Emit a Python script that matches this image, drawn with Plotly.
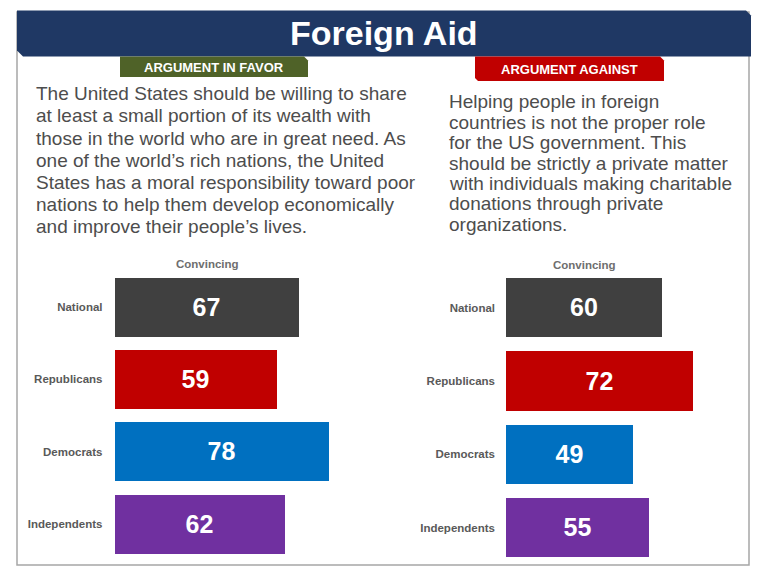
import plotly.graph_objects as go

W, H = 768, 576

title = "Foreign Aid"
label_favor = "ARGUMENT IN FAVOR"
label_against = "ARGUMENT AGAINST"
favor_lines = [
    "The United States should be willing to share",
    "at least a small portion of its wealth with",
    "those in the world who are in great need. As",
    "one of the world\u2019s rich nations, the United",
    "States has a moral responsibility toward poor",
    "nations to help them develop economically",
    "and improve their people\u2019s lives.",
]
against_lines = [
    "Helping people in foreign",
    "countries is not the proper role",
    "for the US government. This",
    "should be strictly a private matter",
    "with individuals making charitable",
    "donations through private",
    "organizations.",
]
categories = ["National", "Republicans", "Democrats", "Independents"]
favor_values = [67, 59, 78, 62]
against_values = [60, 72, 49, 55]
bar_colors = ["#404040", "#C00000", "#0070C0", "#7030A0"]
column_title = "Convincing"

FONT = "Arial, Liberation Sans, sans-serif"


def px(x):
    return x / W


def py(y):
    return 1 - y / H


def path(points):
    s = "M " + " L ".join(f"{px(x):.5f},{py(y):.5f}" for x, y in points) + " Z"
    return s


fig = go.Figure()

fig.add_trace(go.Bar(
    x=favor_values, y=categories, orientation="h",
    marker=dict(color=bar_colors, line=dict(width=0)),
    width=0.816,
    text=favor_values, textposition="inside", insidetextanchor="middle",
    textfont=dict(family=FONT, size=25, color="white", weight="bold"),
    xaxis="x", yaxis="y", hoverinfo="skip", showlegend=False,
))
fig.add_trace(go.Bar(
    x=against_values, y=categories, orientation="h",
    marker=dict(color=bar_colors, line=dict(width=0)),
    width=0.81,
    text=against_values, textposition="inside", insidetextanchor="middle",
    textfont=dict(family=FONT, size=25, color="white", weight="bold"),
    xaxis="x2", yaxis="y2", hoverinfo="skip", showlegend=False,
))

tickfont = dict(family=FONT, size=11.5, color="#595959", weight="bold")

fig.update_layout(
    width=W, height=H,
    margin=dict(l=0, r=0, t=0, b=0),
    paper_bgcolor="white", plot_bgcolor="white",
    xaxis=dict(domain=[px(114.5), px(114.5 + 80 * 2.746)], range=[0, 80],
               visible=False, fixedrange=True),
    yaxis=dict(domain=[py(560.2), py(270.8)], range=[3.5, -0.5],
               categoryorder="array", categoryarray=categories,
               showgrid=False, zeroline=False, showline=False, ticks="",
               tickfont=tickfont, ticklabelstandoff=11, anchor="x"),
    xaxis2=dict(domain=[px(506), px(506 + 80 * 2.6)], range=[0, 80],
                visible=False, fixedrange=True, anchor="y2"),
    yaxis2=dict(domain=[py(564.2), py(270.8)], range=[3.5, -0.5],
                categoryorder="array", categoryarray=categories,
                showgrid=False, zeroline=False, showline=False, ticks="",
                tickfont=tickfont, ticklabelstandoff=10, anchor="x2"),
    bargap=0,
)

shapes = []
# outer border
shapes.append(dict(type="rect", xref="paper", yref="paper",
                   x0=px(17), x1=px(749), y0=py(565), y1=py(12),
                   line=dict(color="#A6A6A6", width=1.5), fillcolor="rgba(0,0,0,0)",
                   layer="below"))
# banner
shapes.append(dict(type="path", xref="paper", yref="paper",
                   path=path([(17, 10.5), (746, 10.5), (751, 15.5), (751, 56.5),
                              (23, 56.5), (17, 50.5)]),
                   fillcolor="#1F3864", line=dict(width=0)))
# green label
shapes.append(dict(type="path", xref="paper", yref="paper",
                   path=path([(120, 56.5), (304, 56.5), (308, 60.5), (308, 77),
                              (120, 77)]),
                   fillcolor="#4F6228", line=dict(width=0)))
# red label
shapes.append(dict(type="path", xref="paper", yref="paper",
                   path=path([(475, 56.5), (660, 56.5), (664, 60.5), (664, 81),
                              (478, 81), (475, 78)]),
                   fillcolor="#C00000", line=dict(width=0)))
fig.update_layout(shapes=shapes)

ann = []
ann.append(dict(text=f"<b>{title}</b>", x=px(384), y=py(33), xref="paper", yref="paper",
                xanchor="center", yanchor="middle", showarrow=False,
                font=dict(family=FONT, size=34, color="white")))
ann.append(dict(text=f"<b>{label_favor}</b>", x=px(214), y=py(67.5), xref="paper", yref="paper",
                xanchor="center", yanchor="middle", showarrow=False,
                font=dict(family=FONT, size=13, color="white")))
ann.append(dict(text=f"<b>{label_against}</b>", x=px(569.5), y=py(69.5), xref="paper", yref="paper",
                xanchor="center", yanchor="middle", showarrow=False,
                font=dict(family=FONT, size=13, color="white")))
for i, line in enumerate(favor_lines):
    ann.append(dict(text=line, x=px(33.5), y=py(93.8 + 22.15 * i), xref="paper", yref="paper",
                    xanchor="left", yanchor="middle", showarrow=False,
                    font=dict(family=FONT, size=19, color="#4D4D4D")))
for i, line in enumerate(against_lines):
    ann.append(dict(text=line, x=px(446.5), y=py(101.8 + 20.4 * i), xref="paper", yref="paper",
                    xanchor="left", yanchor="middle", showarrow=False,
                    font=dict(family=FONT, size=19, color="#4D4D4D")))
ann.append(dict(text=f"<b>{column_title}</b>", x=px(207), y=py(263.5), xref="paper", yref="paper",
                xanchor="center", yanchor="middle", showarrow=False,
                font=dict(family=FONT, size=11.5, color="#6E6E6E")))
ann.append(dict(text=f"<b>{column_title}</b>", x=px(584.5), y=py(264.5), xref="paper", yref="paper",
                xanchor="center", yanchor="middle", showarrow=False,
                font=dict(family=FONT, size=11.5, color="#6E6E6E")))
fig.update_layout(annotations=ann)

fig.write_html("out.html", config={"displayModeBar": False})
